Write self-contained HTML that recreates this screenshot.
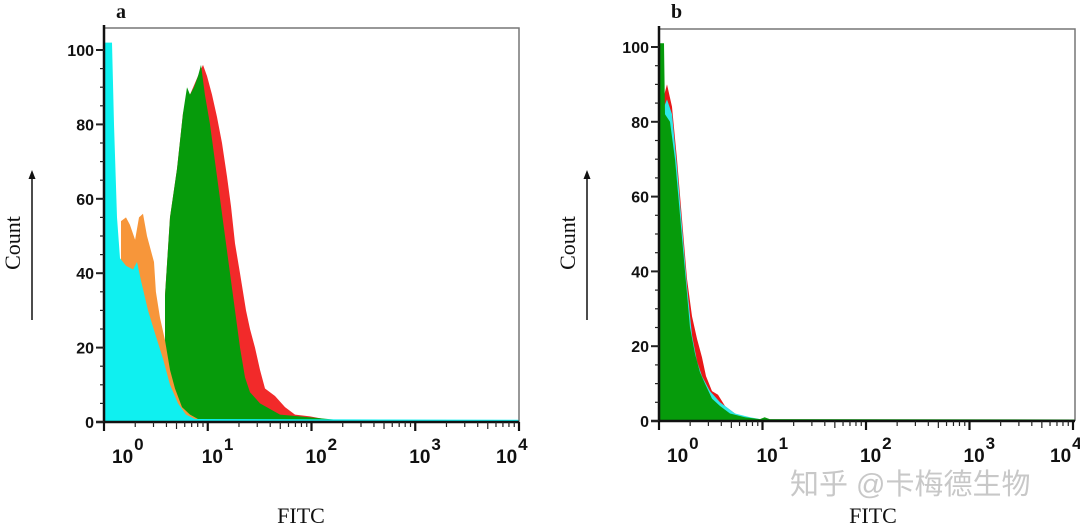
<!DOCTYPE html>
<html><head><meta charset="utf-8"><style>
body{margin:0;background:#fff;width:1080px;height:526px;overflow:hidden}
svg{display:block}
.tl{font-family:"Liberation Sans",Arial,sans-serif;font-weight:bold;font-size:16px;fill:#111}
.xl{font-family:"Liberation Sans",Arial,sans-serif;font-weight:bold;font-size:19px;fill:#111}
.ttl{font-family:"Liberation Serif",serif;font-size:22px;fill:#111}
</style></head><body>
<svg id="c" width="1080" height="526" xmlns="http://www.w3.org/2000/svg"></svg>
<script>
const yTicks=[0,20,40,60,80,100];
const xDecades=[0,1,2,3,4];
// panel a series: [log10 FITC, count]
const aRedX=[0.588,0.636,0.704,0.761,0.829,0.906,0.954,0.993,1.041,1.089,1.137,1.186,1.224,1.263,1.311,1.369,1.407,1.455,1.504,1.552,1.648,1.745,1.841,1.986,2.082,2.178];
const aRedY=[34,55,68,83,88,93,96,93,88,82,75,66,58,48,40,30,25,20,14,9,7,4,2,1.5,1,0.5];
const aGreenX=[0.588,0.636,0.704,0.761,0.8,0.829,0.867,0.906,0.935,0.973,1.022,1.07,1.118,1.166,1.214,1.263,1.311,1.359,1.407,1.504,1.696,2.082,2.275];
const aGreenY=[34,55,68,83,90,88,90,93,96,88,80,70,60,50,40,30,20,12,8,5,2,1,0.5];
const aOrangeX=[0.164,0.212,0.25,0.3,0.337,0.376,0.414,0.453,0.482,0.5,0.54,0.588,0.636,0.684,0.752,0.829,0.925];
const aOrangeY=[54,55,53,49,55,56,50,46,43,35,28,22,14,9,4,2,0.5];
const aCyanX=[0.01,0.077,0.096,0.125,0.154,0.212,0.28,0.318,0.357,0.424,0.49,0.569,0.636,0.713,0.79,0.877,4];
const aCyanY=[102,102,80,55,44,42,41,43,38,30,24,17,10,5,2,0.8,0.6];
// panel b series
const bRedX=[0.02,0.077,0.126,0.174,0.222,0.271,0.319,0.367,0.415,0.454,0.512,0.57,0.638,0.734,0.879];
const bRedY=[84,90,84,70,54,38,28,22,17,12,8,7,4,2,0.5];
const bGreenX=[0.005,0.048,0.058,0.106,0.155,0.203,0.251,0.3,0.348,0.396,0.444,0.512,0.589,0.686,0.831,0.976,1.02,1.07,4.02];
const bGreenY=[101,101,82,80,70,55,40,25,18,13,10,6,4,2,1,0.5,1,0.5,0.4];
const bCyanX=[0.02,0.077,0.126,0.174,0.222,0.271,0.319,0.367,0.415,0.493,0.589,0.734,0.879,1.02];
const bCyanY=[82,86,82,68,52,36,23,16,12,8,5,2,1,0.3];

const NS="http://www.w3.org/2000/svg";
const svg=document.getElementById('c');
function mk(t,a,p){const e=document.createElementNS(NS,t);for(const k in a)e.setAttribute(k,a[k]);(p||svg).appendChild(e);return e;}

function panel(P){
  const g=mk('g',{});
  
  
  const X=v=>P.x0+v*P.dx, Y=v=>P.y0-v*P.dy;
  P.series.forEach(s=>{
    let pts=s.x.map((v,i)=>X(v).toFixed(1)+','+Y(s.y[i]).toFixed(1));
    pts=[X(s.x[0]).toFixed(1)+','+P.y0].concat(pts,[X(s.x[s.x.length-1]).toFixed(1)+','+P.y0]);
    const e=mk('polygon',{points:pts.join(' '),fill:s.color},g);
    
    
  });
  const fr=mk('path',{d:`M${P.x0},${P.top}H${P.x1}V${P.y0}`,fill:'none',stroke:'#777','stroke-width':1.5},g);
  
  
  mk('line',{x1:P.x0,y1:P.top-3,x2:P.x0,y2:P.y0,stroke:'#111','stroke-width':2.5},g);
  mk('line',{x1:P.x0-8,y1:P.y0,x2:P.x1,y2:P.y0,stroke:'#111','stroke-width':2.5},g);
  for(let v=0;v<=100;v+=5){const big=v%20===0;mk('line',{x1:P.x0-(big?8:4),y1:Y(v),x2:P.x0,y2:Y(v),stroke:'#222','stroke-width':big?2:1.2},g);}
  yTicks.forEach(v=>{const t=mk('text',{x:P.x0-10,y:Y(v)+6,'text-anchor':'end',class:'tl'},g);t.textContent=v;
    });
  xDecades.forEach(d=>{
    mk('line',{x1:X(d),y1:P.y0,x2:X(d),y2:P.y0+9,stroke:'#111','stroke-width':2.2},g);
    if(d<4)for(let m=2;m<10;m++){const lx=X(d+Math.log10(m));mk('line',{x1:lx,y1:P.y0,x2:lx,y2:P.y0+(m===5?7:5),stroke:'#222','stroke-width':1.2},g);}
    const off=d===0?8:(d===4?-23:-6);
    const t=mk('text',{x:X(d)+off,y:P.y0+41,class:'xl'},g);
    
    t.textContent='10';
    const s=mk('tspan',{dx:1,dy:-13,'font-size':'17'},t);s.textContent=d;
  });
  const tl=mk('text',{x:P.x0+12,y:18,'font-family':'Liberation Serif, serif','font-weight':'bold','font-size':'20',fill:'#111'},g);
  tl.textContent=P.label;
  const yt=mk('text',{transform:`translate(${P.x0-84},243) rotate(-90)`,'text-anchor':'middle',class:'ttl'},g);
  yt.textContent='Count';
  mk('line',{x1:P.x0-72,y1:320,x2:P.x0-72,y2:176,stroke:'#111','stroke-width':1.5},g);
  mk('polygon',{points:`${P.x0-72},170 ${P.x0-75.5},179 ${P.x0-68.5},179`,fill:'#111'},g);
  const xt=mk('text',{x:P.xt,y:523,'text-anchor':'middle',class:'ttl'},g);
  xt.textContent='FITC';
}
panel({name:'panel-a',label:'a',x0:104,x1:519,top:28,y0:422,dx:103.75,dy:3.72,xt:301,series:[
 {n:'red-histogram',color:'#f22a2a',x:aRedX,y:aRedY},
 {n:'green-histogram',color:'#069b0b',x:aGreenX,y:aGreenY},
 {n:'orange-histogram',color:'#f7963a',x:aOrangeX,y:aOrangeY},
 {n:'cyan-histogram',color:'#0ff0f0',x:aCyanX,y:aCyanY}]});
panel({name:'panel-b',label:'b',x0:659,x1:1075,top:29,y0:421,dx:103.5,dy:3.74,xt:873,series:[
 {n:'red-histogram',color:'#e81818',x:bRedX,y:bRedY},
 {n:'cyan-histogram',color:'#2de8e8',x:bCyanX,y:bCyanY},
 {n:'green-histogram',color:'#069b0b',x:bGreenX,y:bGreenY}]});
const wm=mk('text',{x:790,y:494,'font-family':'"Liberation Sans","Noto Sans CJK SC",sans-serif','font-size':'29',fill:'#c8c8c8'});
wm.textContent='知乎 @卡梅德生物';


</script>
</body></html>
